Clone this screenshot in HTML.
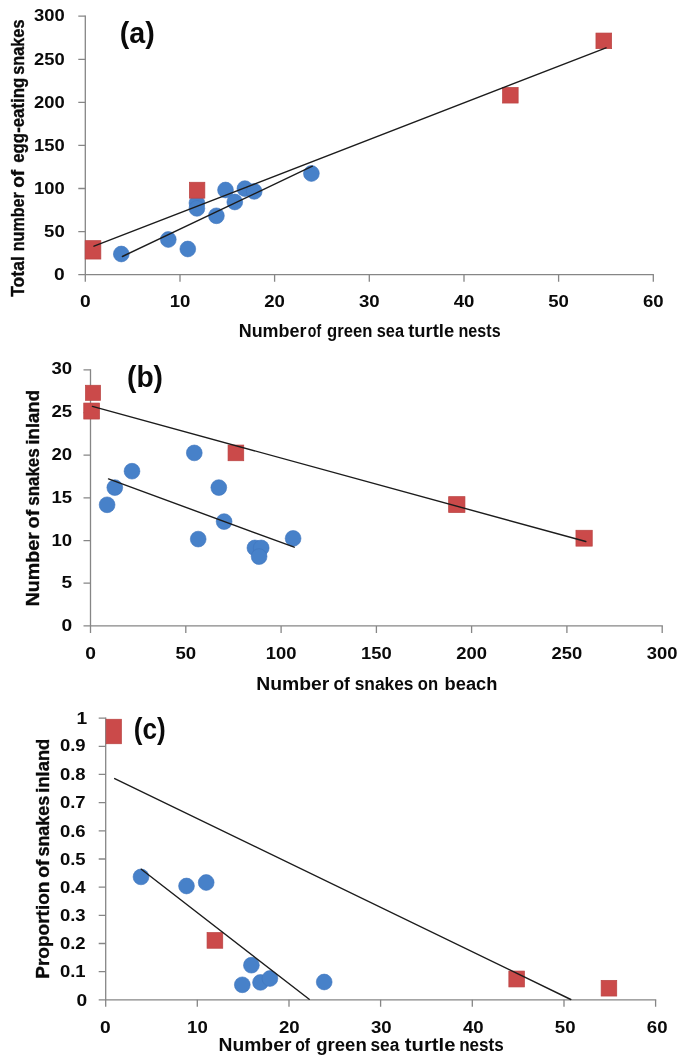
<!DOCTYPE html>
<html lang="en"><head><meta charset="utf-8"><title>Figure: snakes and green sea turtle nests</title>
<style>html,body{margin:0;padding:0;background:#fff}svg{display:block}text{font-family:"Liberation Sans", sans-serif;font-weight:700;fill:#0a0a0a}</style>
</head><body>
<svg width="685" height="1063" viewBox="0 0 685 1063">
<rect width="685" height="1063" fill="#fff"/>
<g id="plot-a">
<g stroke="#868686" stroke-width="1.3" fill="none">
<path d="M85.3 15.5V281.7M78.3 274.7H653.9"/>
<path d="M180.0 274.7v7M274.6 274.7v7M369.3 274.7v7M464.0 274.7v7M558.6 274.7v7M653.3 274.7v7M78.3 231.6h7M78.3 188.5h7M78.3 145.4h7M78.3 102.4h7M78.3 59.3h7M78.3 16.2h7"/>
</g>
<g fill="#4781c9" stroke="#3f76bd" stroke-width="0.6">
<circle cx="121.3" cy="254.0" r="7.9"/>
<circle cx="168.3" cy="239.5" r="7.9"/>
<circle cx="187.8" cy="249.0" r="7.9"/>
<circle cx="196.9" cy="203.0" r="7.9"/>
<circle cx="196.9" cy="208.4" r="7.9"/>
<circle cx="216.4" cy="215.8" r="7.9"/>
<circle cx="225.5" cy="190.0" r="7.9"/>
<circle cx="234.8" cy="202.0" r="7.9"/>
<circle cx="244.9" cy="188.6" r="7.9"/>
<circle cx="254.2" cy="191.4" r="7.9"/>
<circle cx="311.4" cy="173.5" r="7.9"/>
</g>
<g fill="#cb4a4a" stroke="#b94342" stroke-width="0.7">
<rect x="85.15" y="240.65" width="15.7" height="18.4"/>
<rect x="189.35" y="182.25" width="15.5" height="15.9"/>
<rect x="502.55" y="87.45" width="15.6" height="15.6"/>
<rect x="595.95" y="33.05" width="15.7" height="15.6"/>
</g>
<g stroke="#1c1c1c" stroke-width="1.4" stroke-linecap="round">
<line x1="122.4" y1="256.5" x2="312.4" y2="166.2"/>
<line x1="94.0" y1="246.2" x2="606.0" y2="47.8"/>
</g>
<text x="64.8" y="280.4" font-size="17.3" text-anchor="end" textLength="10.7" lengthAdjust="spacingAndGlyphs">0</text>
<text x="64.8" y="237.2" font-size="17.3" text-anchor="end" textLength="20.7" lengthAdjust="spacingAndGlyphs">50</text>
<text x="64.8" y="194.0" font-size="17.3" text-anchor="end" textLength="30.7" lengthAdjust="spacingAndGlyphs">100</text>
<text x="64.8" y="150.8" font-size="17.3" text-anchor="end" textLength="30.7" lengthAdjust="spacingAndGlyphs">150</text>
<text x="64.8" y="107.7" font-size="17.3" text-anchor="end" textLength="30.7" lengthAdjust="spacingAndGlyphs">200</text>
<text x="64.8" y="64.5" font-size="17.3" text-anchor="end" textLength="30.7" lengthAdjust="spacingAndGlyphs">250</text>
<text x="64.8" y="21.3" font-size="17.3" text-anchor="end" textLength="30.7" lengthAdjust="spacingAndGlyphs">300</text>
<text x="85.3" y="307.4" font-size="17.3" text-anchor="middle" textLength="10.7" lengthAdjust="spacingAndGlyphs">0</text>
<text x="180.0" y="307.4" font-size="17.3" text-anchor="middle" textLength="20.7" lengthAdjust="spacingAndGlyphs">10</text>
<text x="274.6" y="307.4" font-size="17.3" text-anchor="middle" textLength="20.7" lengthAdjust="spacingAndGlyphs">20</text>
<text x="369.3" y="307.4" font-size="17.3" text-anchor="middle" textLength="20.7" lengthAdjust="spacingAndGlyphs">30</text>
<text x="464.0" y="307.4" font-size="17.3" text-anchor="middle" textLength="20.7" lengthAdjust="spacingAndGlyphs">40</text>
<text x="558.6" y="307.4" font-size="17.3" text-anchor="middle" textLength="20.7" lengthAdjust="spacingAndGlyphs">50</text>
<text x="653.3" y="307.4" font-size="17.3" text-anchor="middle" textLength="20.7" lengthAdjust="spacingAndGlyphs">60</text>
<text font-size="17.6">
<tspan x="238.7" y="337.4" textLength="67.7" lengthAdjust="spacingAndGlyphs">Number</tspan> <tspan x="307.8" y="337.4" textLength="13.3" lengthAdjust="spacingAndGlyphs">of</tspan> <tspan x="327.0" y="337.4" textLength="45.3" lengthAdjust="spacingAndGlyphs">green</tspan> <tspan x="376.7" y="337.4" textLength="27.3" lengthAdjust="spacingAndGlyphs">sea</tspan> <tspan x="408.2" y="337.4" textLength="46.0" lengthAdjust="spacingAndGlyphs">turtle</tspan> <tspan x="458.5" y="337.4" textLength="42.1" lengthAdjust="spacingAndGlyphs">nests</tspan>
</text>
<text transform="translate(23.5 0) rotate(-90)" font-size="17.6" stroke="#0a0a0a" stroke-width="0.35">
<tspan x="-296.8" y="0" textLength="40.6" lengthAdjust="spacingAndGlyphs">Total</tspan> <tspan x="-251.3" y="0" textLength="59.1" lengthAdjust="spacingAndGlyphs">number</tspan> <tspan x="-187.8" y="0" textLength="18.0" lengthAdjust="spacingAndGlyphs">of</tspan> <tspan x="-162.8" y="0" textLength="85.1" lengthAdjust="spacingAndGlyphs">egg-eating</tspan> <tspan x="-74.8" y="0" textLength="55.3" lengthAdjust="spacingAndGlyphs">snakes</tspan>
</text>
<text x="119.8" y="43.2" font-size="28.8" textLength="35.0" lengthAdjust="spacingAndGlyphs">(a)</text>
</g>
<g id="plot-b">
<g stroke="#868686" stroke-width="1.3" fill="none">
<path d="M90.5 369.2V632.9M83.5 625.9H662.9"/>
<path d="M185.8 625.9v7M281.1 625.9v7M376.4 625.9v7M471.6 625.9v7M566.9 625.9v7M662.2 625.9v7M83.5 583.2h7M83.5 540.6h7M83.5 497.9h7M83.5 455.2h7M83.5 412.6h7M83.5 369.9h7"/>
</g>
<g fill="#4781c9" stroke="#3f76bd" stroke-width="0.6">
<circle cx="107.1" cy="504.8" r="7.9"/>
<circle cx="114.8" cy="487.6" r="7.9"/>
<circle cx="132.0" cy="471.2" r="7.9"/>
<circle cx="194.3" cy="452.9" r="7.9"/>
<circle cx="198.2" cy="539.1" r="7.9"/>
<circle cx="218.8" cy="487.6" r="7.9"/>
<circle cx="224.1" cy="521.6" r="7.9"/>
<circle cx="254.9" cy="547.9" r="7.9"/>
<circle cx="261.2" cy="547.9" r="7.9"/>
<circle cx="259.1" cy="556.6" r="7.9"/>
<circle cx="293.1" cy="538.4" r="7.9"/>
</g>
<g fill="#cb4a4a" stroke="#b94342" stroke-width="0.7">
<rect x="85.45" y="385.25" width="15.1" height="15.1"/>
<rect x="83.75" y="403.05" width="15.8" height="16.0"/>
<rect x="228.05" y="445.05" width="15.7" height="15.7"/>
<rect x="448.65" y="496.65" width="16.3" height="15.9"/>
<rect x="575.95" y="530.25" width="16.3" height="15.9"/>
</g>
<g stroke="#1c1c1c" stroke-width="1.4" stroke-linecap="round">
<line x1="108.5" y1="478.9" x2="294.2" y2="547.2"/>
<line x1="92.4" y1="406.4" x2="585.8" y2="541.5"/>
</g>
<text x="72.1" y="631.3" font-size="17.3" text-anchor="end" textLength="10.7" lengthAdjust="spacingAndGlyphs">0</text>
<text x="72.1" y="588.4" font-size="17.3" text-anchor="end" textLength="10.7" lengthAdjust="spacingAndGlyphs">5</text>
<text x="72.1" y="545.6" font-size="17.3" text-anchor="end" textLength="20.7" lengthAdjust="spacingAndGlyphs">10</text>
<text x="72.1" y="502.7" font-size="17.3" text-anchor="end" textLength="20.7" lengthAdjust="spacingAndGlyphs">15</text>
<text x="72.1" y="459.8" font-size="17.3" text-anchor="end" textLength="20.7" lengthAdjust="spacingAndGlyphs">20</text>
<text x="72.1" y="417.0" font-size="17.3" text-anchor="end" textLength="20.7" lengthAdjust="spacingAndGlyphs">25</text>
<text x="72.1" y="374.1" font-size="17.3" text-anchor="end" textLength="20.7" lengthAdjust="spacingAndGlyphs">30</text>
<text x="90.5" y="658.7" font-size="17.3" text-anchor="middle" textLength="10.7" lengthAdjust="spacingAndGlyphs">0</text>
<text x="185.8" y="658.7" font-size="17.3" text-anchor="middle" textLength="20.7" lengthAdjust="spacingAndGlyphs">50</text>
<text x="281.1" y="658.7" font-size="17.3" text-anchor="middle" textLength="30.7" lengthAdjust="spacingAndGlyphs">100</text>
<text x="376.4" y="658.7" font-size="17.3" text-anchor="middle" textLength="30.7" lengthAdjust="spacingAndGlyphs">150</text>
<text x="471.6" y="658.7" font-size="17.3" text-anchor="middle" textLength="30.7" lengthAdjust="spacingAndGlyphs">200</text>
<text x="566.9" y="658.7" font-size="17.3" text-anchor="middle" textLength="30.7" lengthAdjust="spacingAndGlyphs">250</text>
<text x="662.2" y="658.7" font-size="17.3" text-anchor="middle" textLength="30.7" lengthAdjust="spacingAndGlyphs">300</text>
<text font-size="18.8">
<tspan x="256.3" y="689.9" textLength="73.1" lengthAdjust="spacingAndGlyphs">Number</tspan> <tspan x="333.4" y="689.9" textLength="16.4" lengthAdjust="spacingAndGlyphs">of</tspan> <tspan x="354.7" y="689.9" textLength="58.8" lengthAdjust="spacingAndGlyphs">snakes</tspan> <tspan x="417.8" y="689.9" textLength="20.3" lengthAdjust="spacingAndGlyphs">on</tspan> <tspan x="444.6" y="689.9" textLength="52.8" lengthAdjust="spacingAndGlyphs">beach</tspan>
</text>
<text transform="translate(38.9 0) rotate(-90)" font-size="18.8" stroke="#0a0a0a" stroke-width="0.35">
<tspan x="-606.3" y="0" textLength="74.1" lengthAdjust="spacingAndGlyphs">Number</tspan> <tspan x="-528.4" y="0" textLength="18.6" lengthAdjust="spacingAndGlyphs">of</tspan> <tspan x="-505.8" y="0" textLength="57.5" lengthAdjust="spacingAndGlyphs">snakes</tspan> <tspan x="-444.6" y="0" textLength="54.6" lengthAdjust="spacingAndGlyphs">inland</tspan>
</text>
<text x="127.0" y="386.6" font-size="29.0" textLength="36.0" lengthAdjust="spacingAndGlyphs">(b)</text>
</g>
<g id="plot-c">
<g stroke="#868686" stroke-width="1.3" fill="none">
<path d="M105.7 717.5V1006.8M98.7 999.8H656.2"/>
<path d="M197.3 999.8v7M289.0 999.8v7M380.6 999.8v7M472.3 999.8v7M564.0 999.8v7M655.6 999.8v7M98.7 971.6h7M98.7 943.5h7M98.7 915.3h7M98.7 887.1h7M98.7 859.0h7M98.7 830.8h7M98.7 802.6h7M98.7 774.4h7M98.7 746.3h7M98.7 718.1h7"/>
</g>
<g fill="#4781c9" stroke="#3f76bd" stroke-width="0.6">
<circle cx="141.0" cy="876.9" r="7.9"/>
<circle cx="186.5" cy="886.0" r="7.9"/>
<circle cx="206.2" cy="882.5" r="7.9"/>
<circle cx="251.4" cy="965.2" r="7.9"/>
<circle cx="242.3" cy="984.8" r="7.9"/>
<circle cx="260.5" cy="982.4" r="7.9"/>
<circle cx="269.9" cy="978.5" r="7.9"/>
<circle cx="324.2" cy="982.0" r="7.9"/>
</g>
<g fill="#cb4a4a" stroke="#b94342" stroke-width="0.7">
<rect x="106.15" y="719.25" width="15.3" height="24.5"/>
<rect x="207.05" y="932.55" width="15.7" height="15.7"/>
<rect x="508.85" y="971.05" width="15.6" height="15.9"/>
<rect x="601.15" y="980.35" width="15.6" height="15.7"/>
</g>
<g stroke="#1c1c1c" stroke-width="1.4" stroke-linecap="round">
<line x1="141.3" y1="869.3" x2="309.2" y2="999.3"/>
<line x1="114.7" y1="778.6" x2="570.8" y2="999.5"/>
</g>
<text x="87.2" y="1005.6" font-size="17.3" text-anchor="end" textLength="10.7" lengthAdjust="spacingAndGlyphs">0</text>
<text x="85.6" y="977.4" font-size="17.3" text-anchor="end" textLength="25.7" lengthAdjust="spacingAndGlyphs">0.1</text>
<text x="85.6" y="949.3" font-size="17.3" text-anchor="end" textLength="25.7" lengthAdjust="spacingAndGlyphs">0.2</text>
<text x="85.6" y="921.1" font-size="17.3" text-anchor="end" textLength="25.7" lengthAdjust="spacingAndGlyphs">0.3</text>
<text x="85.6" y="892.9" font-size="17.3" text-anchor="end" textLength="25.7" lengthAdjust="spacingAndGlyphs">0.4</text>
<text x="85.6" y="864.8" font-size="17.3" text-anchor="end" textLength="25.7" lengthAdjust="spacingAndGlyphs">0.5</text>
<text x="85.6" y="836.6" font-size="17.3" text-anchor="end" textLength="25.7" lengthAdjust="spacingAndGlyphs">0.6</text>
<text x="85.6" y="808.4" font-size="17.3" text-anchor="end" textLength="25.7" lengthAdjust="spacingAndGlyphs">0.7</text>
<text x="85.6" y="780.2" font-size="17.3" text-anchor="end" textLength="25.7" lengthAdjust="spacingAndGlyphs">0.8</text>
<text x="85.6" y="750.7" font-size="17.3" text-anchor="end" textLength="25.7" lengthAdjust="spacingAndGlyphs">0.9</text>
<text x="87.2" y="723.9" font-size="17.3" text-anchor="end" textLength="10.7" lengthAdjust="spacingAndGlyphs">1</text>
<text x="105.4" y="1033.2" font-size="17.3" text-anchor="middle" textLength="10.7" lengthAdjust="spacingAndGlyphs">0</text>
<text x="197.4" y="1033.2" font-size="17.3" text-anchor="middle" textLength="20.7" lengthAdjust="spacingAndGlyphs">10</text>
<text x="289.3" y="1033.2" font-size="17.3" text-anchor="middle" textLength="20.7" lengthAdjust="spacingAndGlyphs">20</text>
<text x="381.3" y="1033.2" font-size="17.3" text-anchor="middle" textLength="20.7" lengthAdjust="spacingAndGlyphs">30</text>
<text x="473.3" y="1033.2" font-size="17.3" text-anchor="middle" textLength="20.7" lengthAdjust="spacingAndGlyphs">40</text>
<text x="565.2" y="1033.2" font-size="17.3" text-anchor="middle" textLength="20.7" lengthAdjust="spacingAndGlyphs">50</text>
<text x="657.2" y="1033.2" font-size="17.3" text-anchor="middle" textLength="20.7" lengthAdjust="spacingAndGlyphs">60</text>
<text font-size="19.2">
<tspan x="218.5" y="1051.3" textLength="72.9" lengthAdjust="spacingAndGlyphs">Number</tspan> <tspan x="295.2" y="1051.3" textLength="14.9" lengthAdjust="spacingAndGlyphs">of</tspan> <tspan x="316.2" y="1051.3" textLength="50.6" lengthAdjust="spacingAndGlyphs">green</tspan> <tspan x="370.4" y="1051.3" textLength="28.9" lengthAdjust="spacingAndGlyphs">sea</tspan> <tspan x="404.8" y="1051.3" textLength="50.6" lengthAdjust="spacingAndGlyphs">turtle</tspan> <tspan x="459.2" y="1051.3" textLength="44.6" lengthAdjust="spacingAndGlyphs">nests</tspan>
</text>
<text transform="translate(49.3 0) rotate(-90)" font-size="18.8" stroke="#0a0a0a" stroke-width="0.35">
<tspan x="-978.8" y="0" textLength="97.3" lengthAdjust="spacingAndGlyphs">Proportion</tspan> <tspan x="-877.8" y="0" textLength="18.1" lengthAdjust="spacingAndGlyphs">of</tspan> <tspan x="-856.6" y="0" textLength="60.9" lengthAdjust="spacingAndGlyphs">snakes</tspan> <tspan x="-792.7" y="0" textLength="54.0" lengthAdjust="spacingAndGlyphs">inland</tspan>
</text>
<text x="133.7" y="739.0" font-size="28.6" textLength="32.0" lengthAdjust="spacingAndGlyphs">(c)</text>
</g>
</svg>
</body></html>
